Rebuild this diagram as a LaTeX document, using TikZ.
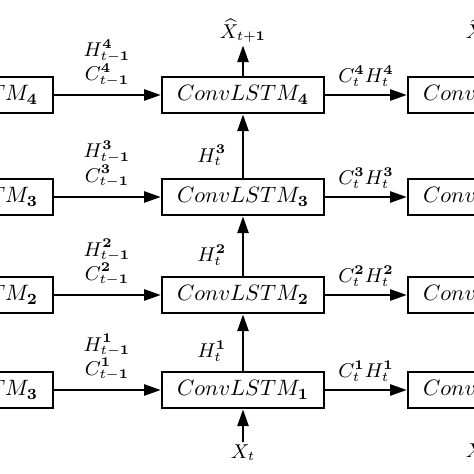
\documentclass[tikz,border=0pt]{standalone}
\usepackage{amsmath,amssymb}
\usetikzlibrary{arrows.meta}
\begin{document}
\begin{tikzpicture}[x=0.45pt,y=-0.45pt,
        cell/.style={rectangle,line width=1pt,draw,minimum width=73pt,minimum height=16.5pt,inner sep=0pt},
        flow/.style={line width=1pt,-{Triangle[length=7.5pt,width=5pt]}},
        lbl/.style={font=\small,inner sep=1pt}]
        \useasboundingbox (0,0) rectangle (474,474);
        \clip (0,0) rectangle (474,474);
        \begin{scope}[every node/.style={cell}]
        \node (p4) at (-28,95) {$ConvLSTM_{\mathbf{4}}$};
        \node (p3) at (-28,197) {$ConvLSTM_{\mathbf{3}}$};
        \node (p2) at (-28,295) {$ConvLSTM_{\mathbf{2}}$};
        \node (p1) at (-28,390) {$ConvLSTM_{\mathbf{3}}$};
        \node (c4) at (243,95) {$ConvLSTM_{\mathbf{4}}$};
        \node (c3) at (243,197) {$ConvLSTM_{\mathbf{3}}$};
        \node (c2) at (243,295) {$ConvLSTM_{\mathbf{2}}$};
        \node (c1) at (243,390) {$ConvLSTM_{\mathbf{1}}$};
        \node (n4) at (489,95) {$ConvLSTM_{\mathbf{4}}$};
        \node (n3) at (489,197) {$ConvLSTM_{\mathbf{3}}$};
        \node (n2) at (489,295) {$ConvLSTM_{\mathbf{2}}$};
        \node (n1) at (489,390) {$ConvLSTM_{\mathbf{1}}$};
        \end{scope}
        \node[lbl] (xhat) at (243,31) {$\widehat{X}_{t+\mathbf{1}}$};
        \node[lbl] (xin) at (243,453) {$X_t$};
        \node[lbl] (xhatnext) at (489,31) {$\widehat{X}_{t+\mathbf{2}}$};
        \node[lbl] (xinnext) at (489,453) {$X_{t+\mathbf{1}}$};
        % hidden and cell states from t-1
        \draw [flow] (p4) -- (c4);
        \draw [flow] (p3) -- (c3);
        \draw [flow] (p2) -- (c2);
        \draw [flow] (p1) -- (c1);
        \node[lbl,anchor=base] at (107,57) {$H^{\mathbf{4}}_{t-\mathbf{1}}$};
        \node[lbl,anchor=base] at (107,81) {$C^{\mathbf{4}}_{t-\mathbf{1}}$};
        \node[lbl,anchor=base] at (107,158) {$H^{\mathbf{3}}_{t-\mathbf{1}}$};
        \node[lbl,anchor=base] at (107,182) {$C^{\mathbf{3}}_{t-\mathbf{1}}$};
        \node[lbl,anchor=base] at (107,256) {$H^{\mathbf{2}}_{t-\mathbf{1}}$};
        \node[lbl,anchor=base] at (107,280) {$C^{\mathbf{2}}_{t-\mathbf{1}}$};
        \node[lbl,anchor=base] at (107,351) {$H^{\mathbf{1}}_{t-\mathbf{1}}$};
        \node[lbl,anchor=base] at (107,375) {$C^{\mathbf{1}}_{t-\mathbf{1}}$};
        % states passed to t+1
        \draw [flow] (c4) -- node[lbl, midway, above=2.5pt]{$C^{\mathbf{4}}_tH^{\mathbf{4}}_t$} (n4);
        \draw [flow] (c3) -- node[lbl, midway, above=2.5pt]{$C^{\mathbf{3}}_tH^{\mathbf{3}}_t$} (n3);
        \draw [flow] (c2) -- node[lbl, midway, above=2.5pt]{$C^{\mathbf{2}}_tH^{\mathbf{2}}_t$} (n2);
        \draw [flow] (c1) -- node[lbl, midway, above=2.5pt]{$C^{\mathbf{1}}_tH^{\mathbf{1}}_t$} (n1);
        % up the stack
        \draw [flow] (xin) -- (c1);
        \draw [flow] (c1) -- node[lbl, pos=0.35, left=6pt]{$H^{\mathbf{1}}_t$} (c2);
        \draw [flow] (c2) -- node[lbl, pos=0.35, left=6pt]{$H^{\mathbf{2}}_t$} (c3);
        \draw [flow] (c3) -- node[lbl, pos=0.35, left=6pt]{$H^{\mathbf{3}}_t$} (c4);
        \draw [flow] (c4) -- (xhat);
    \end{tikzpicture}
\end{document}
